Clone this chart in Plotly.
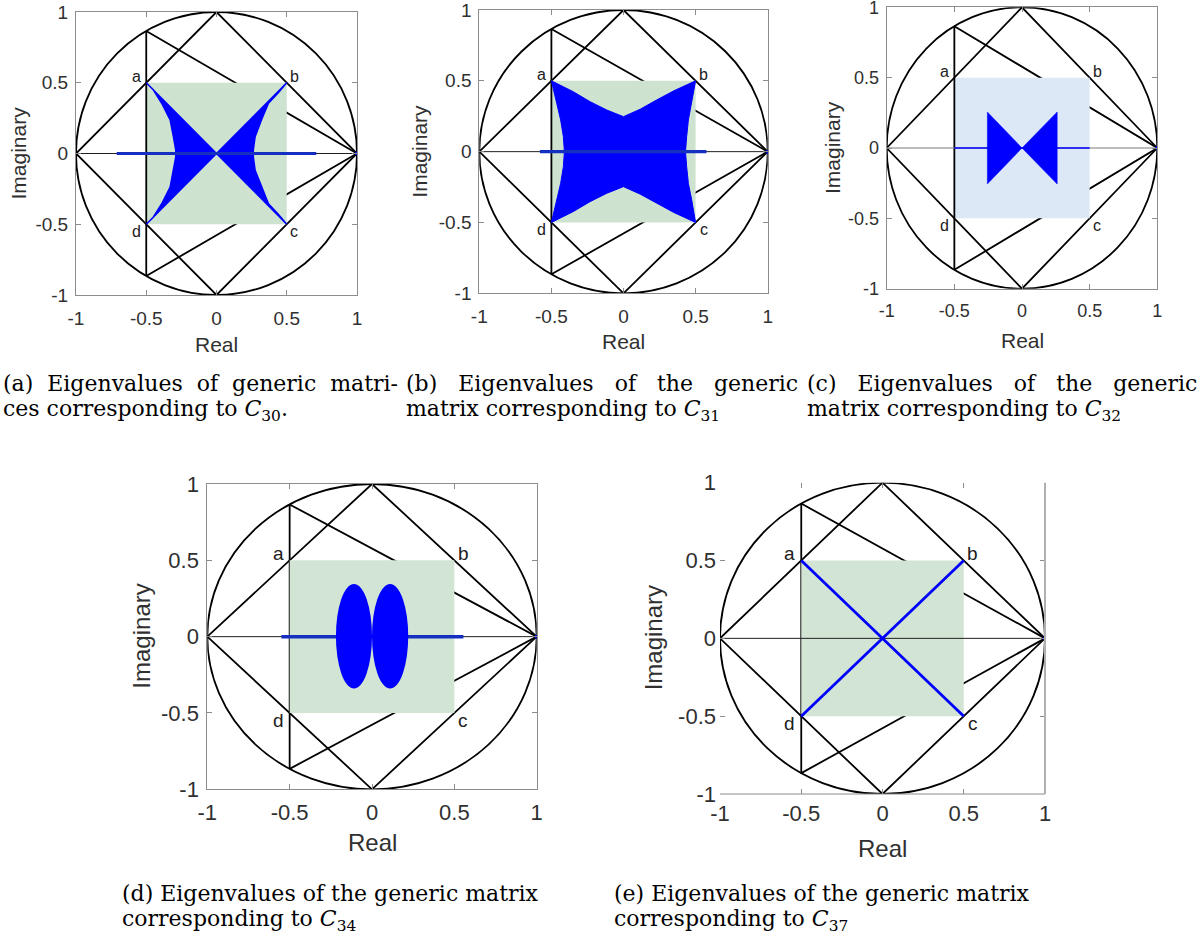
import plotly.graph_objects as go

W, H = 1200, 935

# ---------------- shared geometry (same in every panel) ----------------
diamond_x = [1, 0, -1, 0, 1]
diamond_y = [0, 1, 0, -1, 0]
triangle_x = [-0.5, 1, -0.5]
triangle_y = [0.866, 0, -0.866]
vertical_x = [-0.5, -0.5]
vertical_y = [0.866, -0.866]
real_axis_x = [-1, 1]
real_axis_y = [0, 0]
region_x = [-0.5, 0.5, 0.5, -0.5, -0.5]
region_y = [-0.5, -0.5, 0.5, 0.5, -0.5]
unit_circle = [-1, -1, 1, 1]          # x0, y0, x1, y1
corner_names = ["a", "b", "c", "d"]
corner_x = [-0.57, 0.555, 0.555, -0.57]
corner_y = [0.545, 0.545, -0.55, -0.55]
tick_vals = [-1, -0.5, 0, 0.5, 1]
tick_text = ["-1", "-0.5", "0", "0.5", "1"]
spur_x = [1]
spur_y = [0]

# ---------------- (a) C30 ----------------
a_left_x = [0, -0.5, -0.45, -0.39, -0.33, -0.307, -0.29, -0.29, -0.307, -0.33, -0.39, -0.45, -0.5, 0]
a_left_y = [0, 0.5, 0.45, 0.355, 0.237, 0.119, 0.024, -0.024, -0.119, -0.237, -0.355, -0.45, -0.5, 0]
a_right_x = [0, 0.5, 0.44, 0.37, 0.32, 0.275, 0.262, 0.262, 0.275, 0.32, 0.37, 0.44, 0.5, 0]
a_right_y = [0, 0.5, 0.43, 0.355, 0.237, 0.119, 0.024, -0.024, -0.119, -0.237, -0.355, -0.43, -0.5, 0]
a_real_x = [-0.71, 0.71]

# ---------------- (b) C31 ----------------
b_outline_x = [-0.5, -0.348, -0.232, -0.116, 0, 0.116, 0.23, 0.35, 0.5,
               0.473, 0.45, 0.438, 0.43, 0.438, 0.45, 0.473, 0.5,
               0.35, 0.23, 0.116, 0, -0.116, -0.232, -0.348, -0.5,
               -0.463, -0.436, -0.417, -0.41, -0.417, -0.436, -0.463, -0.5]
b_outline_y = [0.5, 0.423, 0.353, 0.294, 0.247, 0.30, 0.365, 0.43, 0.5,
               0.341, 0.224, 0.106, 0, -0.106, -0.224, -0.341, -0.5,
               -0.43, -0.365, -0.30, -0.247, -0.294, -0.353, -0.423, -0.5,
               -0.341, -0.224, -0.106, 0, 0.106, 0.224, 0.341, 0.5]
b_real_x = [-0.58, 0.575]

# ---------------- (c) C32 ----------------
c_left_x = [-0.256, 0, -0.256, -0.256]
c_left_y = [0.256, 0, -0.256, 0.256]
c_right_x = [0.26, 0, 0.26, 0.26]
c_right_y = [0.256, 0, -0.256, 0.256]
c_real_x = [-0.5, 0.5]

# ---------------- (d) C34 ----------------
d_ellipse_x0 = [-0.219, 0.0]
d_ellipse_x1 = [0.0, 0.22]
d_ellipse_y0 = [-0.34, -0.34]
d_ellipse_y1 = [0.345, 0.345]
d_real_x = [-0.55, 0.555]

# ---------------- (e) C37 ----------------
e_diag1_x = [-0.5, 0.5]
e_diag1_y = [0.5, -0.5]
e_diag2_x = [-0.5, 0.5]
e_diag2_y = [-0.5, 0.5]

# ---------------- captions (line 1 words are justified) ----------------
NB = "\u00a0"
captions = {
    "a": [(NB * 2).join(["(a)", "Eigenvalues", "of", "generic", "matri-"]),
          "ces corresponding to <i>C</i><sub>30</sub>."],
    "b": [(NB * 3).join(["(b)", "Eigenvalues", "of", "the", "generic"]),
          "matrix corresponding to <i>C</i><sub>31</sub>"],
    "c": [(NB * 3).join(["(c)", "Eigenvalues", "of", "the", "generic"]),
          "matrix corresponding to <i>C</i><sub>32</sub>"],
    "d": ["(d) Eigenvalues of the generic matrix", "corresponding to <i>C</i><sub>34</sub>"],
    "e": ["(e) Eigenvalues of the generic matrix", "corresponding to <i>C</i><sub>37</sub>"],
}

# ---------------- layout of panels (pixel boxes) ----------------
panels = {
    "a": dict(box=(76, 357, 12, 295), tick=19, title=21, lab=16, fill="rgb(206,226,208)",
              real_y=345, imag_x=18, cap_x=1, cap_y=(383, 410), xstand=6),
    "b": dict(box=(479.3, 767.7, 10, 293.3), tick=19, title=21, lab=16, fill="rgb(206,226,208)",
              real_y=342, imag_x=420, cap_x=404, cap_y=(383, 410), xstand=6),
    "c": dict(box=(886.7, 1157.3, 7.3, 288.7), tick=18, title=21, lab=16, fill="rgb(221,232,246)",
              real_y=340, imag_x=832, cap_x=805, cap_y=(383, 410), xstand=6),
    "d": dict(box=(207.3, 536.7, 484, 789.3), tick=22, title=24, lab=19, fill="rgb(210,228,212)",
              real_y=842, imag_x=142, cap_x=120, cap_y=(893, 920), xstand=3),
    "e": dict(box=(720, 1045, 482.7, 794), tick=22, title=24, lab=19, fill="rgb(210,228,212)",
              real_y=848, imag_x=653, cap_x=612, cap_y=(893, 920), xstand=4),
}

BLUE = "#0000ff"
NAVY = "#1530c0"
GRAY = "#8c8c8c"
SANS = "Liberation Sans, Arial, sans-serif"
SERIF = "DejaVu Serif, serif"

fig = go.Figure()
layout = dict(width=W, height=H, margin=dict(l=0, r=0, t=0, b=0, autoexpand=False),
              paper_bgcolor="white", plot_bgcolor="white", showlegend=False)
shapes = []
annotations = []


def px(x):
    return x / W


def py(y):
    return 1 - y / H


def line_trace(x, y, xa, ya, color="black", width=1.8):
    return go.Scatter(x=x, y=y, mode="lines", line=dict(color=color, width=width),
                      xaxis=xa, yaxis=ya, hoverinfo="skip", showlegend=False)


def fill_trace(x, y, xa, ya, color, lw=0, lc=None):
    return go.Scatter(x=x, y=y, mode="lines", fill="toself", fillcolor=color,
                      line=dict(color=lc or color, width=lw),
                      xaxis=xa, yaxis=ya, hoverinfo="skip", showlegend=False)


for i, key in enumerate(["a", "b", "c", "d", "e"]):
    p = panels[key]
    s = "" if i == 0 else str(i + 1)
    xa, ya = "x" + s, "y" + s
    L, R, T, B = p["box"]

    # black construction lines
    fig.add_trace(line_trace(diamond_x, diamond_y, xa, ya))
    fig.add_trace(line_trace(triangle_x, triangle_y, xa, ya))
    if key in ("d", "e"):
        fig.add_trace(line_trace(vertical_x, vertical_y, xa, ya))
    # shaded region
    fig.add_trace(fill_trace(region_x, region_y, xa, ya, p["fill"]))
    if key in ("a", "b", "c"):
        fig.add_trace(line_trace(vertical_x, vertical_y, xa, ya))
    # real axis
    fig.add_trace(line_trace(real_axis_x, real_axis_y, xa, ya,
                             color=("#7a7a7a" if key == "c" else "#202020"), width=1))

    # eigenvalues
    if key == "a":
        fig.add_trace(fill_trace(a_left_x, a_left_y, xa, ya, BLUE, lw=1.5))
        fig.add_trace(fill_trace(a_right_x, a_right_y, xa, ya, BLUE, lw=1.5))
        fig.add_trace(line_trace(a_real_x, real_axis_y, xa, ya, color=NAVY, width=3.2))
    elif key == "b":
        fig.add_trace(fill_trace(b_outline_x, b_outline_y, xa, ya, BLUE, lw=1))
        fig.add_trace(line_trace(b_real_x, real_axis_y, xa, ya, color=NAVY, width=3.2))
    elif key == "c":
        fig.add_trace(fill_trace(c_left_x, c_left_y, xa, ya, BLUE, lw=0.5))
        fig.add_trace(fill_trace(c_right_x, c_right_y, xa, ya, BLUE, lw=0.5))
        fig.add_trace(line_trace(c_real_x, real_axis_y, xa, ya, color=BLUE, width=1.5))
    elif key == "d":
        fig.add_trace(line_trace(d_real_x, real_axis_y, xa, ya, color=NAVY, width=3.5))
        for x0, x1, y0, y1 in zip(d_ellipse_x0, d_ellipse_x1, d_ellipse_y0, d_ellipse_y1):
            shapes.append(dict(type="circle", xref=xa, yref=ya, x0=x0, x1=x1, y0=y0, y1=y1,
                               fillcolor=BLUE, line=dict(width=0), layer="above"))
    elif key == "e":
        fig.add_trace(line_trace(e_diag1_x, e_diag1_y, xa, ya, color=BLUE, width=2.8))
        fig.add_trace(line_trace(e_diag2_x, e_diag2_y, xa, ya, color=BLUE, width=2.8))

    fig.add_trace(go.Scatter(x=spur_x, y=spur_y, mode="markers",
                             marker=dict(color=BLUE, size=4), xaxis=xa, yaxis=ya,
                             hoverinfo="skip", showlegend=False))

    # unit circle
    shapes.append(dict(type="circle", xref=xa, yref=ya, x0=unit_circle[0], y0=unit_circle[1],
                       x1=unit_circle[2], y1=unit_circle[3],
                       line=dict(color="black", width=1.8), layer="below"))

    # axes
    common = dict(range=[-1, 1], tickvals=tick_vals, ticktext=tick_text, ticks="inside",
                  ticklen=5, tickcolor=GRAY, tickwidth=1, showgrid=False, zeroline=False,
                  showline=(key != "e"), linecolor=GRAY, linewidth=1, mirror="ticks",
                  automargin=False, ticklabeloverflow="allow",
                  tickfont=dict(family=SANS, size=p["tick"], color="#303030"), fixedrange=True)
    layout["xaxis" + s] = dict(common, domain=[px(L), px(R)], anchor=ya,
                               ticklabelstandoff=p["xstand"])
    layout["yaxis" + s] = dict(common, domain=[py(B), py(T)], anchor=xa, ticklabelstandoff=3)
    if key == "e":
        shapes.append(dict(type="line", xref="paper", yref="paper", x0=px(L), x1=px(R),
                           y0=py(B), y1=py(B), line=dict(color=GRAY, width=1)))
        shapes.append(dict(type="line", xref="paper", yref="paper", x0=px(R), x1=px(R),
                           y0=py(B), y1=py(T), line=dict(color="#b0b0b0", width=2)))

    # corner labels
    for name, cx, cy in zip(corner_names, corner_x, corner_y):
        annotations.append(dict(text=name, x=cx, y=cy, xref=xa, yref=ya, showarrow=False,
                                xanchor="center", yanchor="middle",
                                font=dict(family=SANS, size=p["lab"], color="#202020")))

    # axis titles
    annotations.append(dict(text="Real", x=px((L + R) / 2), y=py(p["real_y"]), xref="paper",
                            yref="paper", showarrow=False, xanchor="center", yanchor="middle",
                            font=dict(family=SANS, size=p["title"], color="#303030")))
    annotations.append(dict(text="Imaginary", x=px(p["imag_x"]), y=py((T + B) / 2), xref="paper",
                            yref="paper", showarrow=False, textangle=-90,
                            xanchor="center", yanchor="middle",
                            font=dict(family=SANS, size=p["title"], color="#303030")))

    # captions
    for line, cy in zip(captions[key], p["cap_y"]):
        annotations.append(dict(text=line, x=px(p["cap_x"]), y=py(cy), xref="paper", yref="paper",
                                xanchor="left", yanchor="middle", showarrow=False,
                                font=dict(family=SERIF, size=22, color="black")))

layout["shapes"] = shapes
layout["annotations"] = annotations
fig.update_layout(**layout)
fig.write_html("out.html", config={"displayModeBar": False, "staticPlot": True},
               post_script="document.body.style.margin='0px';document.body.style.overflow='hidden';")
